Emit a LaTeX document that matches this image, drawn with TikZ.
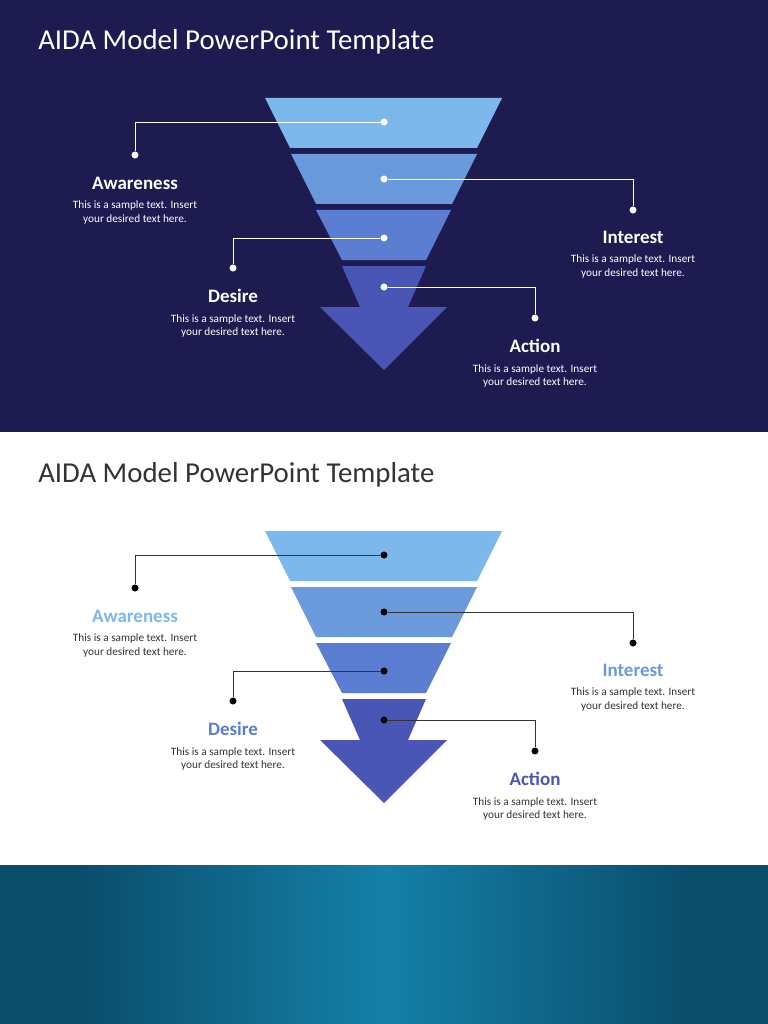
\documentclass[tikz,border=0pt]{standalone}
\usepackage{fontspec}
\setmainfont{Carlito}
\usetikzlibrary{positioning}
\definecolor{navy}{HTML}{1D1B50}
\definecolor{layA}{HTML}{7DB8EC}
\definecolor{layB}{HTML}{6A9ADC}
\definecolor{layC}{HTML}{5B7DD2}
\definecolor{layD}{HTML}{4A56B6}
\definecolor{teal}{HTML}{0A4D6B}
\definecolor{tealmid}{HTML}{1580A8}
\definecolor{greytxt}{HTML}{333333}
\begin{document}
\begin{tikzpicture}[x=0.025cm, y=-0.025cm]
    % styles
    \tikzset{
      title/.style={anchor=west, font=\fontsize{20.5}{24}\selectfont, inner sep=0pt},
      head/.style={font=\fontsize{13.5}{16}\selectfont\bfseries, inner sep=0pt},
      body/.style={font=\fontsize{8}{9.6}\selectfont, align=center, inner sep=0pt},
      link/.style={line width=0.7pt},
      dot/.style={circle, inner sep=0pt, minimum size=5pt},
    }
    \useasboundingbox (0,0) rectangle (768,1024);

    % backgrounds
    \fill[navy] (0,0) rectangle (768,432);
    \fill[white] (0,432) rectangle (768,865);
    \fill[teal] (0,865) rectangle (768,1024);
    \shade[left color=teal, right color=tealmid, shading angle=90] (80,865) rectangle (384,1024);
    \shade[left color=tealmid, right color=teal] (384,865) rectangle (690,1024);

    % two panels
    \foreach \p/\off/\tc/\lc/\dc/\ha/\hb/\hc/\hd in
        {1/0/white/white/white/white/white/white/white,
         2/433/greytxt/greytxt/black/layA/layB/layC/layD} {
    \begin{scope}[yshift=-\off*0.025cm]
      \node[title, text=\tc] (title\p) at (38,42) {AIDA Model PowerPoint Template};

      % funnel layers
      \fill[layA] (265,98) -- (502,98) -- (477,148) -- (290,148) -- cycle;
      \fill[layB] (291,154) -- (477,154) -- (452,204) -- (316,204) -- cycle;
      \fill[layC] (316,210) -- (451,210) -- (426,260) -- (342,260) -- cycle;
      \fill[layD] (342,266) -- (426,266) -- (408,307) -- (447,307) -- (384,370)
                  -- (320,307) -- (360,307) -- cycle;

      % dots
      \node[dot, fill=\dc] (a\p) at (384,122) {};
      \node[dot, fill=\dc] (i\p) at (384,179) {};
      \node[dot, fill=\dc] (d\p) at (384,238) {};
      \node[dot, fill=\dc] (c\p) at (384,287) {};
      \node[dot, fill=\dc] (ae\p) at (135,155) {};
      \node[dot, fill=\dc] (ie\p) at (633,210) {};
      \node[dot, fill=\dc] (de\p) at (233,268) {};
      \node[dot, fill=\dc] (ce\p) at (535,318) {};

      % connectors
      \draw[link, \lc] (a\p) -| (ae\p);
      \draw[link, \lc] (i\p) -| (ie\p);
      \draw[link, \lc] (d\p) -| (de\p);
      \draw[link, \lc] (c\p) -| (ce\p);

      % labels
      \node[head, text=\ha] (aw\p) at (135,183) {Awareness};
      \node[body, text=\tc, below=8pt of aw\p] {This is a sample text. Insert\\your desired text here.};
      \node[head, text=\hb] (in\p) at (633,237) {Interest};
      \node[body, text=\tc, below=8pt of in\p] {This is a sample text. Insert\\your desired text here.};
      \node[head, text=\hc] (de\p) at (233,296) {Desire};
      \node[body, text=\tc, below=8pt of de\p] {This is a sample text. Insert\\your desired text here.};
      \node[head, text=\hd] (ac\p) at (535,346) {Action};
      \node[body, text=\tc, below=8pt of ac\p] {This is a sample text. Insert\\your desired text here.};
    \end{scope}
    }
\end{tikzpicture}
\end{document}
